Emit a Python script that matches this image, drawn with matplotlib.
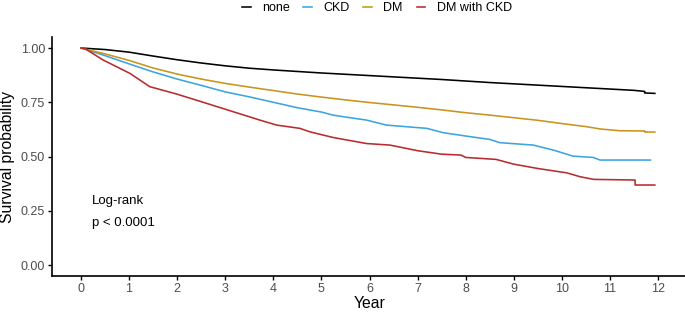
import matplotlib.pyplot as plt

plt.rcParams['font.family'] = ['Liberation Sans', 'DejaVu Sans']

# survival curves (year, survival probability)
none_t = [0, 0.5, 1, 1.5, 2, 2.5, 3, 3.5, 4, 4.5, 5, 5.5, 6, 6.5, 7, 7.5, 8, 8.5,
          9, 9.5, 10, 10.5, 11, 11.5, 11.72, 11.72, 11.93]
none_s = [1.0, 0.993, 0.981, 0.963, 0.946, 0.931, 0.918, 0.907, 0.899, 0.892, 0.885,
          0.879, 0.873, 0.867, 0.861, 0.855, 0.848, 0.841, 0.835, 0.829, 0.823, 0.817,
          0.811, 0.805, 0.800, 0.793, 0.791]

ckd_t = [0, 0.5, 1, 1.5, 2, 2.5, 3, 3.5, 4, 4.5, 5, 5.24, 5.5, 5.94, 6.35, 7.19,
         7.53, 8.02, 8.5, 8.71, 9.4, 9.82, 10.23, 10.65, 10.79, 11.84]
ckd_s = [1.0, 0.965, 0.927, 0.890, 0.857, 0.828, 0.798, 0.775, 0.750, 0.725, 0.705,
         0.691, 0.682, 0.668, 0.645, 0.630, 0.610, 0.594, 0.579, 0.564, 0.553, 0.530,
         0.502, 0.496, 0.484, 0.484]

dm_t = [0, 0.5, 1, 1.5, 2, 2.5, 3, 3.5, 4, 4.5, 5, 5.5, 6, 6.5, 7, 7.5, 8, 8.5,
        9, 9.5, 10, 10.5, 10.8, 11.2, 11.72, 11.72, 11.93]
dm_s = [1.0, 0.973, 0.943, 0.908, 0.880, 0.857, 0.837, 0.820, 0.804, 0.788, 0.774,
        0.761, 0.749, 0.738, 0.727, 0.715, 0.702, 0.691, 0.679, 0.667, 0.652, 0.638,
        0.627, 0.619, 0.618, 0.613, 0.613]

dmckd_t = [0, 0.1, 0.46, 1.02, 1.43, 1.99, 2.47, 3.03, 3.72, 4.07, 4.55, 4.76, 5.24,
           5.94, 6.42, 7.0, 7.5, 7.9, 8.0, 8.63, 9.0, 9.5, 10.1, 10.38, 10.66, 11.52,
           11.52, 11.93]
dmckd_s = [1.0, 0.995, 0.945, 0.883, 0.822, 0.788, 0.755, 0.716, 0.668, 0.645, 0.630,
           0.614, 0.588, 0.560, 0.553, 0.527, 0.511, 0.507, 0.496, 0.487, 0.465, 0.445,
           0.425, 0.407, 0.395, 0.392, 0.369, 0.369]

labels = ['none', 'CKD', 'DM', 'DM with CKD']
colors = ['#000000', '#3AA5DF', '#C8941E', '#B82B2E']
curves = [(none_t, none_s), (ckd_t, ckd_s), (dm_t, dm_s), (dmckd_t, dmckd_s)]

fig = plt.figure(figsize=(6.85, 3.12), dpi=100)
ax = fig.add_axes([0.076, 0.1154, 0.927, 0.7655])

for (t, s), lab, col in zip(curves, labels, colors):
    ax.plot(t, s, color=col, lw=1.15, label=lab)

ax.set_xlim(-0.6, 12.6)
ax.set_ylim(-0.05, 1.05)
ax.set_xticks(range(0, 13))
ax.set_yticks([0, 0.25, 0.5, 0.75, 1.0])
ax.set_yticklabels(['0.00', '0.25', '0.50', '0.75', '1.00'])
ax.tick_params(labelsize=9, labelcolor='#4D4D4D', length=3, width=1.0, pad=2)
ax.spines['top'].set_visible(False)
ax.spines['right'].set_visible(False)
ax.spines['left'].set_linewidth(1.2)
ax.spines['bottom'].set_linewidth(1.2)
ax.set_xlabel('Year', fontsize=11.3, labelpad=1)
ax.set_ylabel('Survival probability', fontsize=11.3, labelpad=4)

ax.text(0.23, 0.295, 'Log-rank', fontsize=9.5, va='center')
ax.text(0.23, 0.195, 'p < 0.0001', fontsize=9.5, va='center')

fig.legend(loc='center', bbox_to_anchor=(0.55, 0.973), ncol=4, frameon=False,
           fontsize=9, handlelength=0.7, handletextpad=0.9, columnspacing=1.1)

fig.savefig('out.png', dpi=100)
